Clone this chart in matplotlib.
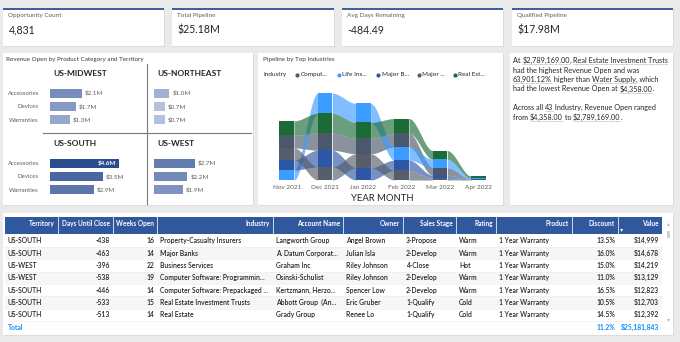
import numpy as np
import matplotlib
matplotlib.use("Agg")
import matplotlib.pyplot as plt
from matplotlib.patches import Rectangle
from matplotlib.colors import to_rgb

plt.rcParams['font.family'] = ['Lato', 'DejaVu Sans']

W, H = 680, 342

# KPI cards
kpi_titles = ['Opportunity Count', 'Total Pipeline', 'Avg Days Remaining', 'Qualified Pipeline']
kpi_values = ['4,831', '$25.18M', '-484.49', '$17.98M']

# revenue open ($M) by product category, per territory
categories = ['Accessories', 'Devices', 'Warranties']
territories = ['US-MIDWEST', 'US-NORTHEAST', 'US-SOUTH', 'US-WEST']
midwest_rev = [2.1, 1.7, 1.3]
northeast_rev = [1.0, 0.7, 0.7]
south_rev = [4.6, 3.5, 2.9]
west_rev = [2.7, 2.2, 1.9]

# pipeline ($K) by top industries, per month
months = ['Nov 2021', 'Dec 2021', 'Jan 2022', 'Feb 2022', 'Mar 2022', 'Apr 2022']
industry_labels = ['Comput...', 'Life Ins...', 'Major B...', 'Major ...', 'Real Est...']
comput_pipe = [320, 430, 390, 350, 190, 10]
life_pipe = [250, 510, 480, 330, 210, 15]
majorb_pipe = [260, 420, 310, 260, 80, 8]
majorp_pipe = [300, 330, 350, 240, 40, 5]
realest_pipe = [360, 500, 400, 370, 220, 60]

# smart narrative
narrative = [
    [('At ', 0), ('$2,789,169.00', 1), (', ', 0), ('Real Estate Investment Trusts', 1)],
    [('had the highest Revenue Open and was', 0)],
    [('63,901.12%', 1), (' higher than ', 0), ('Water Supply', 1), (', which', 0)],
    [('had the lowest Revenue Open at ', 0), ('$4,358.00', 1), ('.', 0)],
    [],
    [('Across all ', 0), ('43', 1), (' Industry, Revenue Open ranged', 0)],
    [('from ', 0), ('$4,358.00', 1), (' to ', 0), ('$2,789,169.00', 1), ('.', 0)],
]

# table
headers = ['Territory', 'Days Until Close', 'Weeks Open', 'Industry', 'Account Name',
           'Owner', 'Sales Stage', 'Rating', 'Product', 'Discount', 'Value']
tbl_territory = ['US-SOUTH', 'US-SOUTH', 'US-WEST', 'US-WEST', 'US-SOUTH', 'US-SOUTH', 'US-SOUTH']
tbl_days = [-438, -463, -396, -538, -446, -533, -513]
tbl_weeks = [16, 14, 22, 19, 14, 15, 14]
tbl_industry = ['Property-Casualty Insurers', 'Major Banks', 'Business Services',
                'Computer Software: Programmin...', 'Computer Software: Prepackaged ...',
                'Real Estate Investment Trusts', 'Real Estate']
tbl_account = ['Langworth Group', 'A. Datum Corporat...', 'Graham Inc', 'Osinski-Schulist',
               'Kertzmann, Herzo...', 'Abbott Group  (An...', 'Grady Group']
tbl_owner = ['Angel Brown', 'Julian Isla', 'Riley Johnson', 'Riley Johnson',
             'Spencer Low', 'Eric Gruber', 'Renee Lo']
tbl_stage = ['3-Propose', '2-Develop', '4-Close', '2-Develop', '2-Develop', '1-Qualify', '1-Qualify']
tbl_rating = ['Warm', 'Warm', 'Hot', 'Warm', 'Warm', 'Cold', 'Cold']
tbl_product = ['1 Year Warranty'] * 7
tbl_discount = [13.5, 16.0, 15.0, 11.0, 16.5, 10.5, 14.5]
tbl_value = [14999, 14678, 14219, 13129, 12823, 12703, 12392]
total_discount = 11.2
total_value = 25181843

TXT = '#252423'
SUB = '#605e5c'
NAVY = '#2b4f8f'

fig = plt.figure(figsize=(W / 100, H / 100), dpi=100, facecolor='#eaeaea')
bg = fig.add_axes([0, 0, 1, 1])
bg.set_xlim(0, W)
bg.set_ylim(H, 0)
bg.axis('off')
renderer = fig.canvas.get_renderer()


def fig_axes(x0, y0, x1, y1):
    ax = fig.add_axes([x0 / W, 1 - y1 / H, (x1 - x0) / W, (y1 - y0) / H])
    ax.patch.set_alpha(0)
    for sp in ax.spines.values():
        sp.set_visible(False)
    return ax


def card(x0, y0, x1, y1, top_line=False):
    bg.add_patch(Rectangle((x0 + 0.6, y0 + 0.8), x1 - x0, y1 - y0, fc='#dcdcdc', ec='none'))
    bg.add_patch(Rectangle((x0, y0), x1 - x0, y1 - y0, fc='white', ec='none'))
    if top_line:
        bg.plot([x0, x1], [y0 + 0.5, y0 + 0.5], color=NAVY, lw=1.3, solid_capstyle='butt')


def textw(s, **kw):
    t = bg.text(0, 0, '|' + s + '|', **kw)
    t2 = bg.text(0, 0, '||', **kw)
    w = t.get_window_extent(renderer).width - t2.get_window_extent(renderer).width
    t.remove()
    t2.remove()
    return w


# ---- KPI cards ----
kpi_boxes = [(3, 164), (172, 334), (342, 503), (512, 673)]
for (x0, x1), title, val in zip(kpi_boxes, kpi_titles, kpi_values):
    card(x0, 8, x1, 46, top_line=True)
    bg.text(x0 + 5, 15, title, fontsize=4.6, color=SUB, va='center')
    bg.text(x0 + 5.5, 30, val, fontsize=7.6, color=TXT, va='center')

# ---- small multiples ----
card(3, 53, 253, 205)
bg.text(6, 59.5, 'Revenue Open by Product Category and Territory', fontsize=4.5, color='#3b3a39', va='center')
bg.plot([147, 147], [64, 204], color='#7a7a7a', lw=0.8)
bg.plot([43, 251], [133, 133], color='#7a7a7a', lw=0.8)

all_rev = midwest_rev + northeast_rev + south_rev + west_rev
lo_c, hi_c = np.array(to_rgb('#b3c1e0')), np.array(to_rgb('#2a4b8d'))


def shade(v):
    t = (v - min(all_rev)) / (max(all_rev) - min(all_rev))
    return tuple(lo_c + (hi_c - lo_c) * t ** 0.8)


slot = 13.25
panels = [(50, 86.5, 53, 74, midwest_rev, True),
          (154, 86.5, 157, 74, northeast_rev, False),
          (50, 156.4, 53, 143, south_rev, True),
          (154, 156.4, 157, 143, west_rev, False)]
for name, (bx, by, tx, ty, vals, show_lab) in zip(territories, panels):
    bg.text(tx, ty, name, fontsize=6, fontweight='bold', color=TXT, va='center')
    ax = fig_axes(bx, by, bx + 90, by + 3 * slot)
    pos = np.arange(len(categories))
    ax.barh(pos, vals, height=0.68, color=[shade(v) for v in vals])
    ax.set_xlim(0, 6)
    ax.set_ylim(2.5, -0.5)
    ax.set_xticks([])
    if show_lab:
        ax.set_yticks(pos)
        ax.set_yticklabels(categories, fontsize=4.4, color=SUB)
        ax.tick_params(axis='y', length=0, pad=8)
    else:
        ax.set_yticks([])
    for p, v in zip(pos, vals):
        lab = f'${v:.1f}M'
        if v >= 4:
            ax.annotate(lab, (v, p), xytext=(-2, 0), textcoords='offset points', ha='right',
                        va='center', fontsize=4.5, color='white', fontweight='bold')
        else:
            ax.annotate(lab, (v, p), xytext=(2.5, 0), textcoords='offset points', ha='left',
                        va='center', fontsize=4.5, color=SUB)

# ---- ribbon chart ----
card(258, 53, 503, 205)
bg.text(263, 59.5, 'Pipeline by Top Industries', fontsize=4.5, color='#3b3a39', va='center')
ind_colors = ['#4b586b', '#3d9cff', '#2e56a6', '#555e6a', '#1b6b37']
bg.text(263, 74.5, 'Industry', fontsize=4.6, color=TXT, va='center')
leg_x = [297, 339, 378, 419, 455]
for lx, lab, c in zip(leg_x, industry_labels, ind_colors):
    bg.plot(lx, 74.5, 'o', ms=3.0, color=c, mec='none')
    bg.text(lx + 3.5, 74.5, lab, fontsize=4.6, color=TXT, va='center')

series = np.array([comput_pipe, life_pipe, majorb_pipe, majorp_pipe, realest_pipe], dtype=float)
n_ind, n_m = series.shape
bottoms = np.zeros_like(series)
for m in range(n_m):
    acc = 0.0
    for k in np.argsort(series[:, m]):
        bottoms[k, m] = acc
        acc += series[k, m]
tops = bottoms + series

rx = fig_axes(274, 84.8, 491, 180)
hw = 0.19
for k in range(n_ind):
    for m in range(n_m - 1):
        xs = np.linspace(m + hw, m + 1 - hw, 40)
        t = (xs - xs[0]) / (xs[-1] - xs[0])
        s = t * t * (3 - 2 * t)
        lo = bottoms[k, m] + (bottoms[k, m + 1] - bottoms[k, m]) * s
        hi = tops[k, m] + (tops[k, m + 1] - tops[k, m]) * s
        rx.fill_between(xs, lo, hi, color=ind_colors[k], alpha=0.65, lw=0)
for k in range(n_ind):
    rx.bar(np.arange(n_m), series[k], bottom=bottoms[k], width=2 * hw, color=ind_colors[k], lw=0)
rx.set_xlim(-0.33, n_m - 1 + 0.33)
rx.set_ylim(0, 2400)
rx.set_yticks([])
rx.set_xticks(np.arange(n_m))
rx.set_xticklabels(months, fontsize=4.6, color=SUB)
rx.tick_params(axis='x', length=0, pad=3.8)
rx.set_xlabel('YEAR MONTH', fontsize=6.8, color=TXT, labelpad=3)

# ---- smart narrative ----
card(510, 53, 673, 205)
NS = 5.2
ly = 60.7
for line in narrative:
    x = 513
    for seg, ul in line:
        bg.text(x, ly, seg, fontsize=NS, color=TXT, va='center')
        w = textw(seg, fontsize=NS)
        if ul:
            bg.plot([x, x + w], [ly + 3.6, ly + 3.6], color='#9a9896', lw=0.5, ls=(0, (1, 0.8)))
        x += w
    ly += 9.4

# ---- table ----
card(3, 213, 673, 335)
edges = [5, 58, 113, 157, 273, 343, 403, 456, 496, 572, 618, 662]
aligns = ['left', 'right', 'right', 'left', 'left', 'left', 'left', 'left', 'left', 'right', 'right']
bg.add_patch(Rectangle((edges[0], 217), edges[-1] - edges[0], 16.5, fc='#30589c', ec='none'))
for e in edges[1:-1]:
    bg.plot([e, e], [217, 233.5], color='#e6ecf5', lw=0.6)
for i, h in enumerate(headers):
    bg.text(edges[i + 1] - 3, 223.5, h, fontsize=4.7, color='white', fontweight='bold',
            ha='right', va='center')
bg.text(edges[-2] + 4, 230, '▾', fontsize=4.5, color='white', ha='center', va='center')

cols = [tbl_territory, [str(v) for v in tbl_days], [str(v) for v in tbl_weeks], tbl_industry,
        tbl_account, tbl_owner, tbl_stage, tbl_rating, tbl_product,
        [f'{v:.1f}%' for v in tbl_discount], [f'${v:,}' for v in tbl_value]]
row_h = 12.35
TS = 4.85
for r in range(len(tbl_territory)):
    yc = 240.7 + r * row_h
    if r % 2 == 1:
        bg.add_patch(Rectangle((edges[0], yc - row_h / 2), edges[-1] - edges[0], row_h,
                               fc='#f6f6f6', ec='none'))
    bg.plot([edges[0], edges[-1]], [yc + row_h / 2, yc + row_h / 2], color='#ececec', lw=0.4)
    for c, (vals, al) in enumerate(zip(cols, aligns)):
        x = edges[c] + 3 if al == 'left' else edges[c + 1] - 3
        bg.text(x, yc, vals[r], fontsize=TS, color=TXT, ha=al, va='center', fontweight='semibold')
yt = 240.7 + len(tbl_territory) * row_h
bg.text(edges[0] + 3, yt, 'Total', fontsize=TS, color='#118dff', fontweight='bold', va='center')
bg.text(edges[-2] - 3, yt, f'{total_discount:.1f}%', fontsize=TS, color='#118dff',
        fontweight='bold', ha='right', va='center')
bg.text(edges[-1] - 3, yt, f'${total_value:,}', fontsize=TS, color='#118dff',
        fontweight='bold', ha='right', va='center')

# scrollbar
bg.plot(668, 224, marker='^', ms=2, color='#b0b0b0', mec='none')
bg.add_patch(Rectangle((666.5, 231), 3, 7, fc='#cfcfcf', ec='none'))
bg.plot(668, 320, marker='v', ms=2, color='#b0b0b0', mec='none')

fig.savefig('out.png', dpi=100, facecolor=fig.get_facecolor())
